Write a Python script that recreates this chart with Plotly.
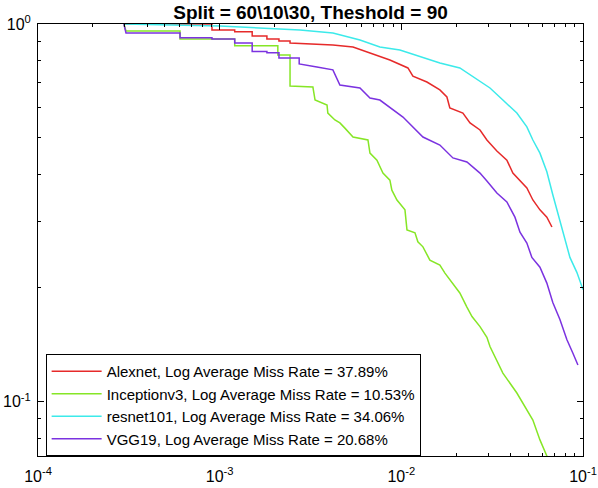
import plotly.graph_objects as go

# Miss rate vs false positives per image
alex_fppi = [2.97e-4, 9.07e-4, 9.07e-4, 1.21e-3, 1.21e-3, 1.51e-3, 1.51e-3, 1.82e-3,
             1.82e-3, 2.12e-3, 2.12e-3, 2.44e-3, 2.44e-3, 4.20e-3, 5.42e-3, 7.34e-3,
             8.65e-3, 1.087e-2, 1.158e-2, 1.383e-2, 1.630e-2, 1.782e-2, 1.849e-2,
             2.182e-2, 2.388e-2, 2.710e-2, 2.958e-2, 3.357e-2, 3.81e-2, 4.111e-2,
             4.909e-2, 5.297e-2, 5.794e-2, 6.324e-2, 6.745e-2]
alex_miss = [1.0, 1.0, 0.964, 0.964, 0.954, 0.954, 0.930, 0.930,
             0.913, 0.913, 0.902, 0.902, 0.891, 0.880, 0.869, 0.828,
             0.803, 0.765, 0.728, 0.702, 0.669, 0.641, 0.599,
             0.581, 0.547, 0.524, 0.493, 0.461, 0.436, 0.403,
             0.368, 0.342, 0.322, 0.308, 0.290]

incep_fppi = [2.97e-4, 3.05e-4, 6.05e-4, 6.05e-4, 1.21e-3, 1.21e-3, 2.09e-3, 2.09e-3,
              2.44e-3, 2.44e-3, 3.26e-3, 3.35e-3, 3.90e-3, 3.94e-3, 4.31e-3, 4.59e-3,
              4.89e-3, 5.42e-3, 6.55e-3, 6.72e-3, 7.34e-3, 7.92e-3, 8.65e-3, 8.87e-3,
              9.46e-3, 1.047e-2, 1.074e-2, 1.189e-2, 1.233e-2, 1.315e-2, 1.436e-2,
              1.630e-2, 1.738e-2, 1.849e-2, 2.099e-2, 2.296e-2, 2.449e-2, 2.710e-2,
              2.958e-2, 3.076e-2, 3.357e-2, 3.622e-2, 4.325e-2, 4.667e-2, 5.297e-2,
              5.794e-2, 6.324e-2, 6.5e-2]
incep_miss = [1.0, 0.958, 0.958, 0.913, 0.913, 0.876, 0.876, 0.828,
              0.828, 0.685, 0.681, 0.629, 0.610, 0.581, 0.557, 0.547,
              0.530, 0.502, 0.493, 0.455, 0.436, 0.403, 0.386, 0.363,
              0.342, 0.322, 0.285, 0.280, 0.265, 0.257, 0.237,
              0.230, 0.219, 0.210, 0.194, 0.178, 0.168, 0.158,
              0.148, 0.140, 0.129, 0.119, 0.1054, 0.0992, 0.0894,
              0.0792, 0.0718, 0.068]

resnet_fppi = [2.97e-4, 1.0e-3, 2.77e-3, 4.20e-3, 5.92e-3, 7.62e-3, 9.82e-3, 1.265e-2,
               1.630e-2, 2.099e-2, 2.477e-2, 3.076e-2, 3.622e-2, 4.325e-2, 4.909e-2,
               5.297e-2, 5.794e-2, 6.324e-2, 6.82e-2, 7.178e-2, 7.75e-2, 8.472e-2,
               9.25e-2, 0.1]
resnet_miss = [1.0, 0.988, 0.964, 0.947, 0.907, 0.869, 0.853, 0.818,
               0.788, 0.765, 0.724, 0.677, 0.629, 0.581, 0.534,
               0.493, 0.455, 0.406, 0.353, 0.322, 0.280, 0.241,
               0.220, 0.198]

vgg_fppi = [2.97e-4, 3.05e-4, 6.05e-4, 6.05e-4, 9.07e-4, 9.07e-4, 1.21e-3, 1.21e-3,
            1.51e-3, 1.51e-3, 1.82e-3, 1.82e-3, 2.12e-3, 2.12e-3, 2.74e-3, 2.74e-3,
            3.43e-3, 4.20e-3, 4.59e-3, 5.92e-3, 6.72e-3, 7.62e-3, 1.021e-2, 1.158e-2,
            1.315e-2, 1.630e-2, 1.923e-2, 2.296e-2, 2.710e-2, 2.958e-2, 3.357e-2,
            3.81e-2, 4.22e-2, 4.498e-2, 4.909e-2, 5.23e-2, 5.794e-2, 6.324e-2,
            6.82e-2, 7.464e-2, 8.147e-2, 8.790e-2, 9.376e-2]
vgg_miss = [1.0, 0.947, 0.947, 0.920, 0.920, 0.913, 0.913, 0.891,
            0.891, 0.845, 0.845, 0.839, 0.839, 0.813, 0.813, 0.784,
            0.769, 0.756, 0.689, 0.677, 0.637, 0.629, 0.567, 0.534,
            0.502, 0.478, 0.442, 0.431, 0.403, 0.384, 0.357,
            0.338, 0.308, 0.281, 0.263, 0.241, 0.227, 0.206,
            0.183, 0.165, 0.146, 0.1345, 0.125]

names = ["Alexnet, Log Average Miss Rate = 37.89%",
         "Inceptionv3, Log Average Miss Rate = 10.53%",
         "resnet101, Log Average Miss Rate = 34.06%",
         "VGG19, Log Average Miss Rate = 20.68%"]
colors = ["#e62a2a", "#86e626", "#3ceaea", "#7b32e0"]

x_ticks = [1e-4, 1e-3, 1e-2, 1e-1]
x_labels = ["10<sup>-4</sup>", "10<sup>-3</sup>", "10<sup>-2</sup>", "10<sup>-1</sup>"]
y_ticks = [0.1, 1.0]
y_labels = ["10<sup>-1</sup>", "10<sup>0</sup>"]

series = [(alex_fppi, alex_miss), (incep_fppi, incep_miss),
          (resnet_fppi, resnet_miss), (vgg_fppi, vgg_miss)]

fig = go.Figure()
for (xs, ys), name, c in zip(series, names, colors):
    fig.add_trace(go.Scatter(x=xs, y=ys, mode="lines", name=name,
                             line=dict(color=c, width=1.5)))

x_minor = [m * 10 ** e for e in (-4, -3, -2) for m in range(2, 10)]
y_minor = [0.08, 0.09] + [m / 10 for m in range(2, 10)]

axis_common = dict(showline=True, linecolor="black", linewidth=1, mirror="ticks",
                   ticks="inside", ticklen=6, tickcolor="black", showgrid=False,
                   zeroline=False, automargin=False,
                   tickfont=dict(size=16, color="black"))

fig.update_xaxes(type="log", range=[-4, -1], tickvals=x_ticks, ticktext=x_labels,
                 ticklabelstandoff=6,
                 minor=dict(tickvals=x_minor, ticks="inside", ticklen=3, tickcolor="black"),
                 **axis_common)
fig.update_yaxes(type="log", range=[-1.1439, 0], tickvals=y_ticks, ticktext=y_labels,
                 ticklabelstandoff=3,
                 minor=dict(tickvals=y_minor, ticks="inside", ticklen=3, tickcolor="black"),
                 **axis_common)

fig.update_layout(
    width=598, height=488,
    margin=dict(l=38, r=15, t=24, b=32),
    plot_bgcolor="white", paper_bgcolor="white",
    font=dict(family="Liberation Sans, Arial, sans-serif", color="black"),
    title=dict(text="<b>Split = 60\\10\\30, Theshold = 90</b>", x=0.5, xref="paper",
               y=1 - 12 / 488, yanchor="middle", font=dict(size=19)),
    legend=dict(x=0.014, y=0.236, xanchor="left", yanchor="top",
                bgcolor="white", bordercolor="black", borderwidth=1,
                font=dict(size=15), itemwidth=50, tracegroupgap=0),
    showlegend=True,
)

fig.write_html("out.html", config={"displayModeBar": False},
               post_script="document.body.style.margin='0';")
